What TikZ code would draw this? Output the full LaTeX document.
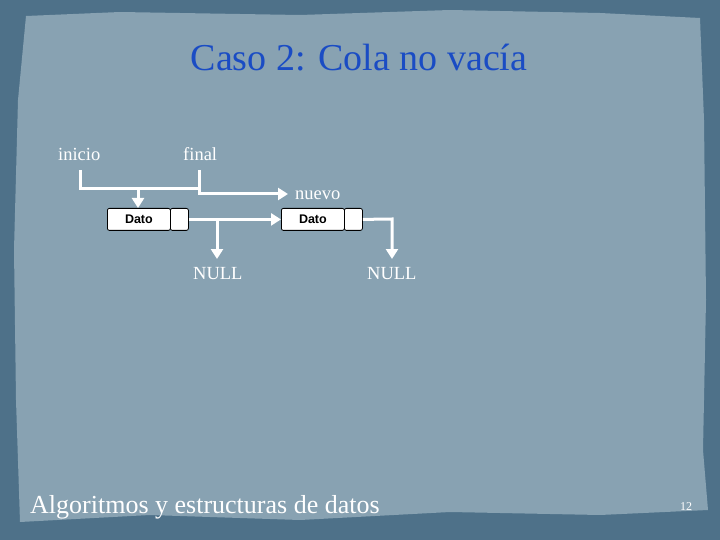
\documentclass[tikz,border=0pt]{standalone}
\usepackage{fontspec}
\setmainfont{Liberation Serif}
\newfontfamily\boxfont{Liberation Sans}
\usetikzlibrary{arrows.meta}
\definecolor{edgeblue}{HTML}{4E7189}
\definecolor{paper}{HTML}{88A2B2}
\definecolor{titleblue}{HTML}{1A4CC4}
\tikzset{
  lbl/.style={text=white, font=\fontsize{18.5}{20}\selectfont, inner sep=0pt},
  cell/.style={draw=black, fill=white, rounded corners=2pt, line width=0.8pt, minimum height=22pt, inner sep=0pt},
  ptr/.style={draw=white, line width=3pt, -{Triangle[length=10pt,width=12pt]}},
  wire/.style={draw=white, line width=3pt}
}
\begin{document}
\begin{tikzpicture}[x=1pt,y=-1pt]
\useasboundingbox (0,0) rectangle (720,540);
\fill[edgeblue] (0,0) rectangle (720,540);
\fill[paper] (26,16) -- (120,12) -- (300,15) -- (450,10) -- (600,13) -- (700,18) -- (704,120) -- (706,300) -- (703,450) -- (708,510) -- (600,515) -- (450,512) -- (300,520) -- (150,515) -- (20,522) -- (16,400) -- (14,250) -- (18,100) -- cycle;
% title
\node[text=titleblue, font=\fontsize{38}{40}\selectfont, inner sep=0pt] (title) at (359,58) {Caso 2: Cola no vacía};
% labels
\node[lbl, anchor=base west] (inicio) at (58,161) {inicio};
\node[lbl, anchor=base west] (final) at (183,161) {final};
\node[lbl, anchor=base west] (nuevo) at (295,200) {nuevo};
\node[lbl, anchor=base west] (null1) at (193,279) {NULL};
\node[lbl, anchor=base west] (null2) at (367,279) {NULL};
% boxes
\node[cell, minimum width=63pt, anchor=north west, font=\boxfont\bfseries\fontsize{12.5}{14}\selectfont] (d1) at (107,208) {Dato};
\node[cell, minimum width=18pt, anchor=north west] (p1) at (170,208) {};
\node[cell, minimum width=63pt, anchor=north west, font=\boxfont\bfseries\fontsize{12.5}{14}\selectfont] (d2) at (281,208) {Dato};
\node[cell, minimum width=18pt, anchor=north west] (p2) at (344,208) {};
% connector points
\coordinate (a1) at (80,170);
\coordinate (a2) at (80,189);
\coordinate (a3) at (199,189);
\coordinate (a4) at (138,189);
\coordinate (b1) at (199,170);
\coordinate (b2) at (199,194);
\coordinate (b3) at (288,194);
\coordinate (c1) at (217,219);
\coordinate (c2) at (217,259);
\coordinate (e1) at (392,219);
\coordinate (e2) at (392,259);
% inicio pointer
\draw[wire] (a1) -- (a2) -- (a3);
\draw[ptr] (a4) -- (d1.north -| a4);
% final pointer
\draw[ptr] (b1) -- (b2) -- (b3);
% node 1 next
\draw[ptr] (p1.east) -- (d2.west);
\draw[ptr] (c1) -- (c2);
% node 2 next
\draw[ptr] (p2.east) -- (e1) -- (e2);
% footer
\node[text=white, font=\fontsize{26}{28}\selectfont, anchor=base west, inner sep=0pt] (footer) at (30,513) {Algoritmos y estructuras de datos};
\node[text=white, font=\fontsize{12}{14}\selectfont, inner sep=0pt] (page) at (686,507) {12};
\end{tikzpicture}
\end{document}
